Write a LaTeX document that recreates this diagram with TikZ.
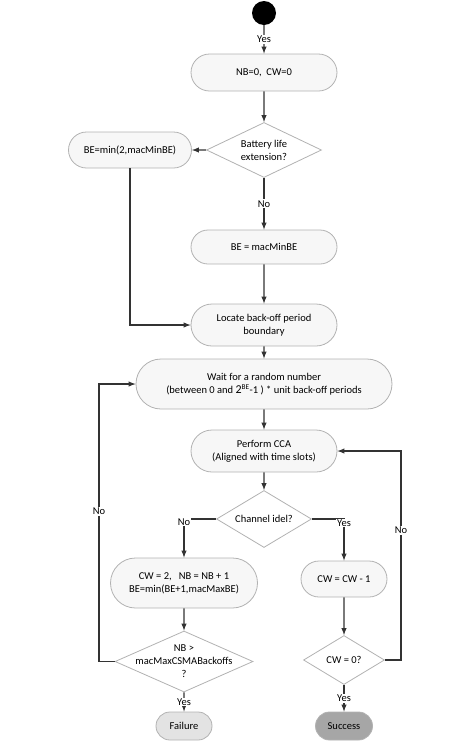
\documentclass[tikz,border=0pt]{standalone}
\usepackage{fontspec}
\setmainfont{Carlito}
\usepackage{tikz}
\usetikzlibrary{arrows}
\usetikzlibrary{shapes.geometric, shapes.misc}
\definecolor{ln}{rgb}{.2,.2,.2}
\definecolor{bd}{rgb}{.70,.70,.70}
\definecolor{bx}{rgb}{.97,.97,.97}
\tikzstyle{proc}=[rounded rectangle, draw=bd, fill=bx, line width=.8pt, inner sep=0pt, align=center, font=\fontsize{10.5}{13}\selectfont]
\tikzstyle{decide}=[diamond, aspect=2, draw=bd, fill=white, line width=.8pt, inner sep=-15pt, align=center, font=\fontsize{10.5}{13}\selectfont]
\tikzstyle{flow}=[-latex, draw=ln, line width=1.4pt]
\tikzstyle{lbl}=[fill=white, inner sep=1pt, font=\fontsize{10.5}{12}\selectfont]

\begin{document}
\begin{tikzpicture}[x=1pt, y=-1pt]

      \useasboundingbox (0,0) rectangle (474,756);

      \node[circle, fill=black, minimum size=24pt, inner sep=0pt] (start) at (264,13) {};

      \node[proc, minimum width=146pt, minimum height=37pt] (nb0) at (264,72.5) {NB=0,\ \ CW=0};
      \node[decide, minimum width=115pt, minimum height=55pt] (battery) at (264,150) {Battery life\\extension?};
      \node[proc, minimum width=123pt, minimum height=36pt] (bemin2) at (130,150) {BE=min(2,macMinBE)};
      \node[proc, minimum width=146pt, minimum height=34pt] (bemin) at (264,247) {BE = macMinBE};
      \node[proc, minimum width=146pt, minimum height=42pt] (locate) at (264,325) {Locate back-off period\\boundary};
      \node[proc, minimum width=256pt, minimum height=50pt] (wait) at (264,384)
        {Wait for a random number\\(between 0 and {\large 2}\textsuperscript{BE}-1 ) * unit back-off periods};
      \node[proc, minimum width=146pt, minimum height=42pt] (cca) at (264,451) {Perform CCA\\(Aligned with time slots)};
      \node[decide, minimum width=95pt, minimum height=57pt] (idle) at (264,519) {Channel idel?};

      \node[proc, minimum width=147pt, minimum height=50pt] (cw2) at (184,583) {CW = 2,\ \ \ NB = NB + 1\\BE=min(BE+1,macMaxBE)};
      \node[proc, minimum width=86pt, minimum height=36pt] (cwdec) at (344,579) {CW = CW - 1};
      \node[decide, minimum width=138pt, minimum height=61pt] (nbmax) at (184,661.5) {NB \textgreater\\macMaxCSMABackoffs\\?};
      \node[decide, minimum width=81pt, minimum height=49pt] (cw0) at (344,660) {CW = 0?};

      \node[proc, fill=gray!22, minimum width=56pt, minimum height=28pt] (failure) at (184,726) {Failure};
      \node[proc, fill=gray!70, minimum width=57pt, minimum height=28pt] (success) at (344,726) {Success};

      % main line
      \draw[flow] (start) -- node[lbl] {Yes} (nb0);
      \draw[flow] (nb0) -- (battery);
      \draw[flow] (battery) -- (bemin2);
      \draw[flow] (battery) -- node[lbl] {No} (bemin);
      \draw[flow] (bemin) -- (locate);
      \draw[flow] (bemin2.south) |- (locate.west);
      \draw[flow] (locate) -- (wait);
      \draw[flow] (wait) -- (cca);
      \draw[flow] (cca) -- (idle);

      % channel idle
      \draw[flow] (idle.west) -| node[lbl, pos=.5, yshift=-3pt] {No} (cw2.north);
      \draw[flow] (idle.east) -| node[lbl, pos=.5, yshift=-4pt] {Yes} (cwdec.north);
      \draw[flow] (cw2) -- (nbmax);
      \draw[flow] (cwdec) -- (cw0);

      % ends
      \draw[flow] (nbmax) -- node[lbl] {Yes} (failure);
      \draw[flow] (cw0) -- node[lbl] {Yes} (success);

      % loops
      \coordinate (lcorner) at (99,661.5);
      \coordinate (rcorner) at (401,660);
      \draw[flow] (nbmax.west) -- (lcorner) |- node[lbl, pos=.27] {No} (wait.west);
      \draw[flow] (cw0.east) -- (rcorner) |- node[lbl, pos=.31] {No} (cca.east);

\end{tikzpicture}
\end{document}
